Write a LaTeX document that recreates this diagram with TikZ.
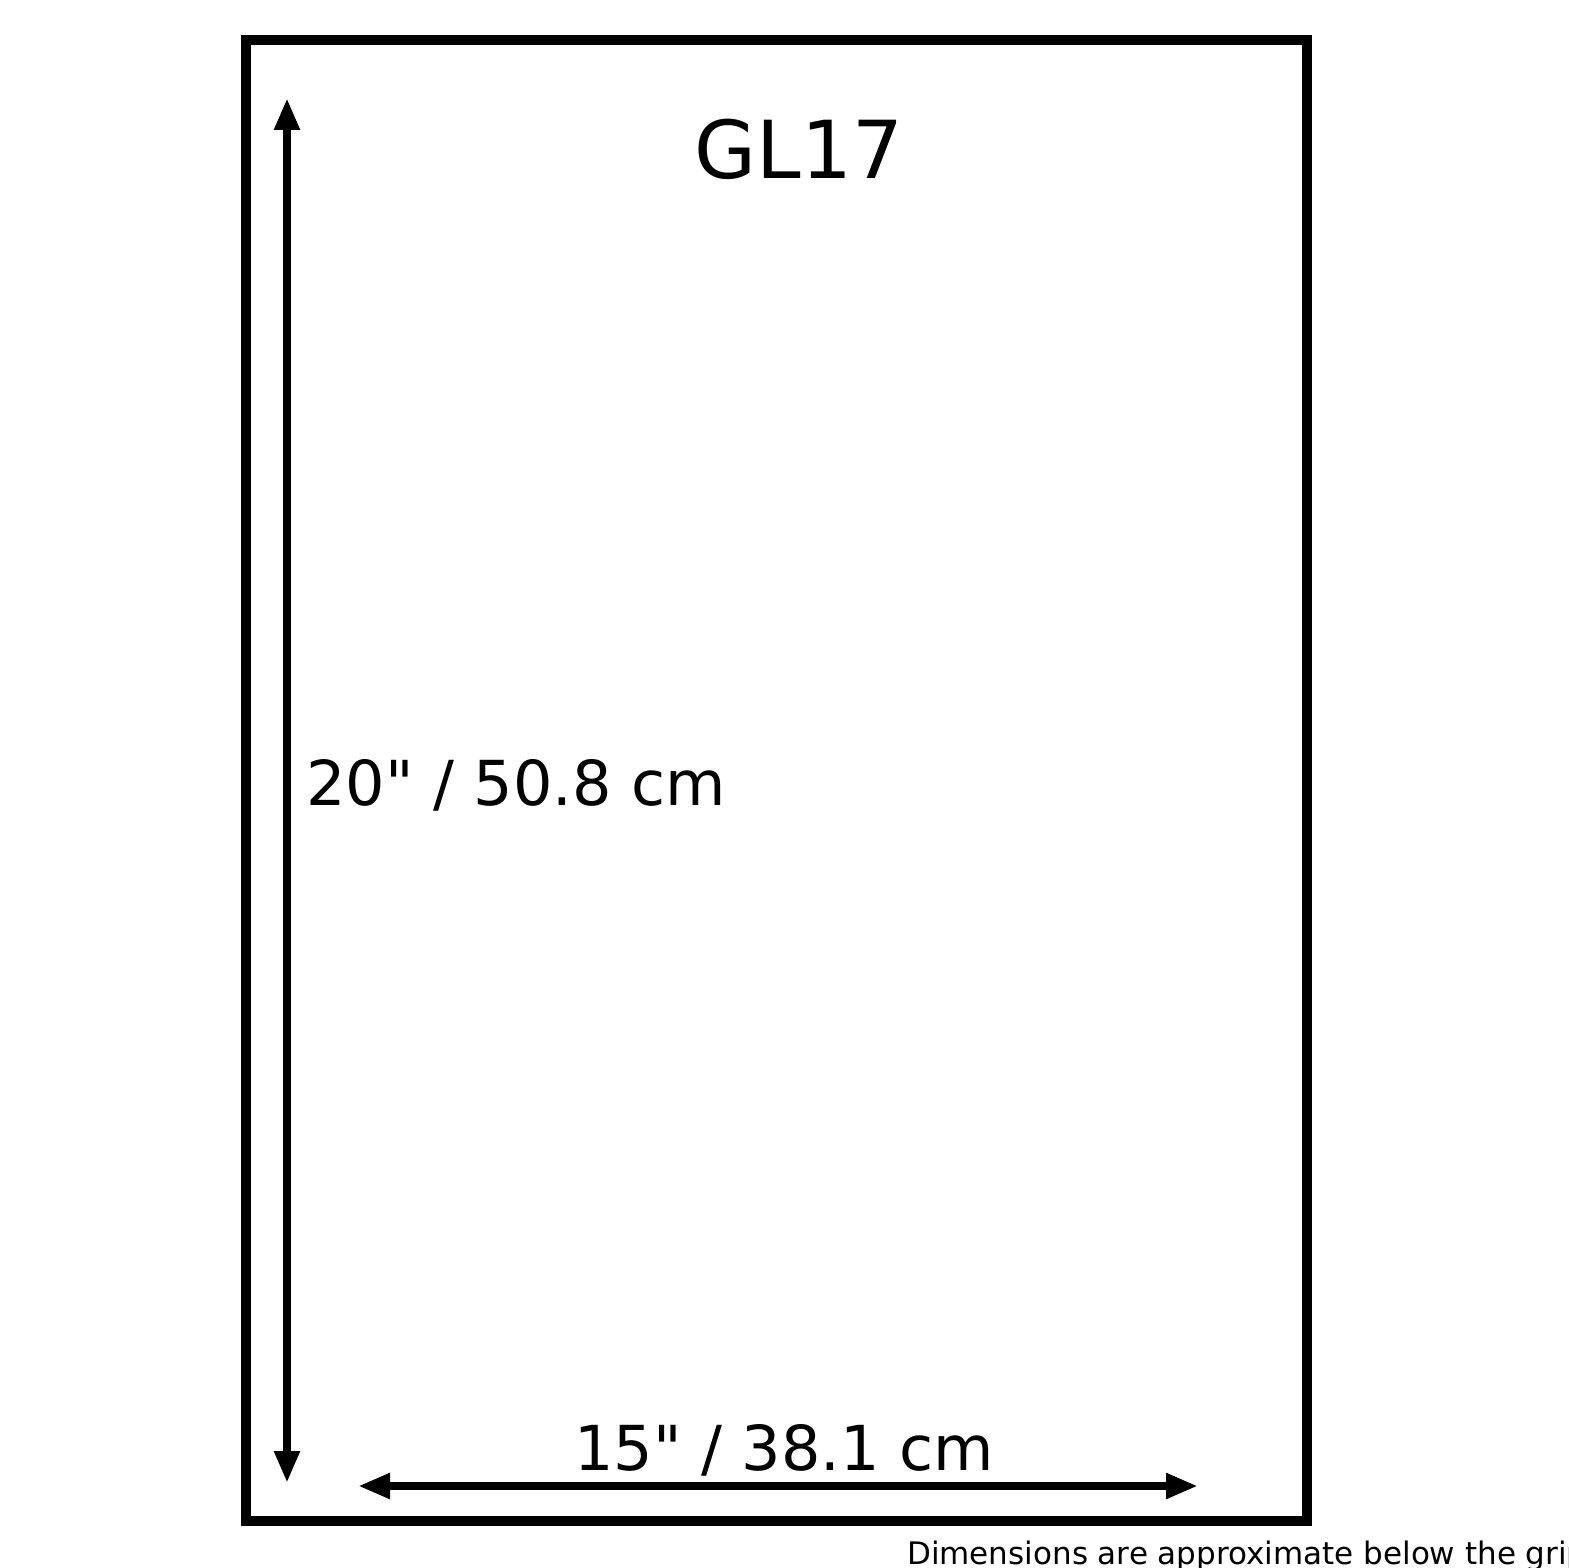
\documentclass[tikz,border=0pt]{standalone}
\usepackage{fontspec}
\newfontfamily\dvfont{DejaVu Sans}
\usetikzlibrary{arrows.meta}
\tikzset{
  dimarrow/.style={line width=8pt, {Triangle[length=32pt,width=24pt]}-{Triangle[length=32pt,width=24pt]}},
  frame/.style={draw, line width=10pt, rectangle, inner sep=0pt},
  lbl/.style={inner sep=0pt, anchor=base west}
}
\begin{document}
\begin{tikzpicture}[x=1pt,y=-1pt]
\useasboundingbox[fill=white] (0,0) rectangle (1568,1568);
\node[frame, minimum width=1061pt, minimum height=1481pt] (box) at (776.5,780.5) {};
\coordinate (vtop) at (287,98);
\coordinate (vbot) at (287,1483);
\coordinate (hleft) at (358,1486);
\coordinate (hright) at (1198,1486);
\draw[dimarrow] (vtop) -- (vbot);
\draw[dimarrow] (hleft) -- (hright);
\node[inner sep=0pt, anchor=base, font=\dvfont\fontsize{80}{96}\selectfont] (title) at (799,178) {GL17};
\node[lbl, font=\dvfont\fontsize{62}{74}\selectfont] (hgt) at (306,805) {20" / 50.8 cm};
\node[lbl, font=\dvfont\fontsize{62}{74}\selectfont] (wid) at (574,1470) {15" / 38.1 cm};
\node[lbl, font=\dvfont\fontsize{31}{37}\selectfont] (note) at (907,1564) {Dimensions are approximate below the grip};
\end{tikzpicture}
\end{document}
